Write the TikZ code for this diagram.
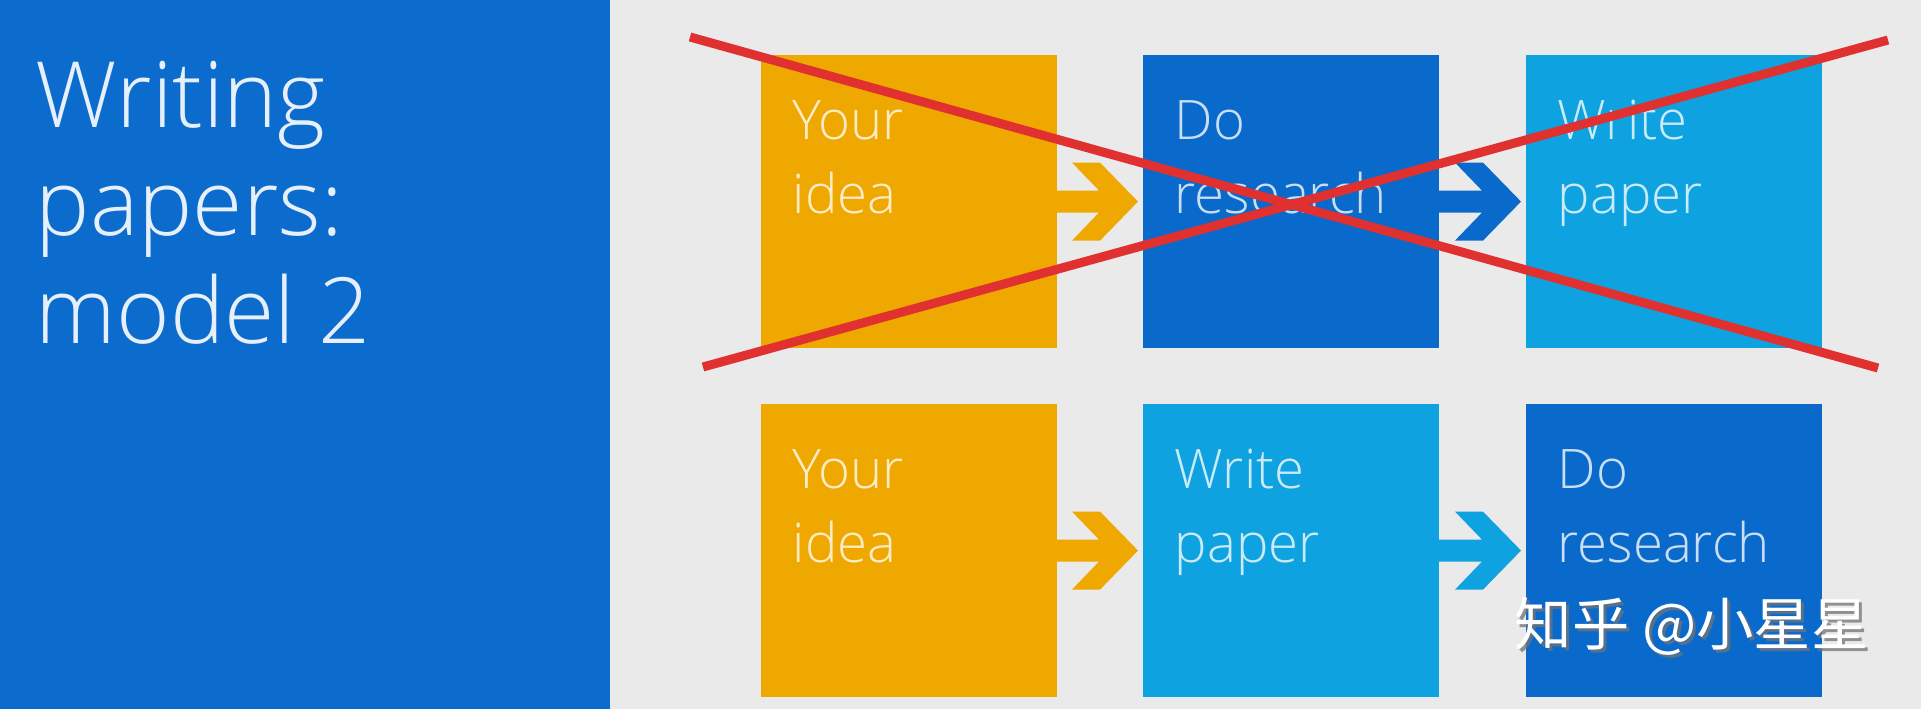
\documentclass[tikz,border=0pt]{standalone}
\usepackage{fontspec}
\setmainfont{Open Sans}
\newfontfamily\lightfont{Open Sans Light}
\newfontfamily\cjk{Noto Sans CJK SC}
\usetikzlibrary{calc}
\definecolor{bggray}{HTML}{EAEAEA}
\definecolor{panelblue}{HTML}{0B6CCD}
\definecolor{darkblue}{HTML}{0A6ACB}
\definecolor{lightblue}{HTML}{0EA2E0}
\definecolor{gold}{HTML}{EEA800}
\definecolor{crossred}{HTML}{E03030}
\newcommand\flowarrow[3]{%
  \fill[#1] ($(#2.east)+(0,-11)$) -- ($(#3.west)+(-44,-11)$) -- ($(#3.west)+(-71,-39)$)
    -- ($(#3.west)+(-43,-39)$) -- ($(#3.west)+(-5,0)$) -- ($(#3.west)+(-43,39)$)
    -- ($(#3.west)+(-71,39)$) -- ($(#3.west)+(-44,11)$) -- ($(#2.east)+(0,11)$) -- cycle;}
\begin{document}
\begin{tikzpicture}[x=0.01cm,y=-0.01cm,
  tile/.style={rectangle, inner sep=0pt, outer sep=0pt, minimum width=2.96cm, minimum height=2.93cm, anchor=north west},
  tiletext/.style={anchor=base west, inner sep=0pt, text=white, text opacity=0.78, font=\lightfont\fontsize{15.5pt}{18pt}\selectfont},
  titletext/.style={anchor=base west, inner sep=0pt, text=white, text opacity=0.9, font=\lightfont\fontsize{26pt}{30pt}\selectfont},
  cross/.style={crossred, line width=0.09cm},
  wmark/.style={anchor=base west, inner sep=0pt, font=\cjk\fontsize{16.3pt}{18pt}\selectfont},
]
\useasboundingbox (0,0) rectangle (1921,709);
\fill[bggray] (0,0) rectangle (1921,709);
\node[rectangle, fill=panelblue, inner sep=0pt, outer sep=0pt, minimum width=6.10cm, minimum height=7.09cm, anchor=north west] (panel) at (0,0) {};
\node[titletext] (title1) at (35,127) {Writing};
\node[titletext] (title2) at (35,235) {papers:};
\node[titletext] (title3) at (35,343) {model 2};
% top row
\node[tile, fill=gold] (a1) at (761,55) {};
\node[tile, fill=darkblue] (a2) at (1143,55) {};
\node[tile, fill=lightblue] (a3) at (1526,55) {};
% bottom row
\node[tile, fill=gold] (b1) at (761,404) {};
\node[tile, fill=lightblue] (b2) at (1143,404) {};
\node[tile, fill=darkblue] (b3) at (1526,404) {};
% texts
\node[tiletext] (a1t1) at ($(a1.north west)+(31,84)$) {Your};
\node[tiletext] (a1t2) at ($(a1.north west)+(31,158)$) {idea};
\node[tiletext] (a2t1) at ($(a2.north west)+(31,84)$) {Do};
\node[tiletext] (a2t2) at ($(a2.north west)+(31,158)$) {research};
\node[tiletext] (a3t1) at ($(a3.north west)+(31,84)$) {Write};
\node[tiletext] (a3t2) at ($(a3.north west)+(31,158)$) {paper};
\node[tiletext] (b1t1) at ($(b1.north west)+(31,84)$) {Your};
\node[tiletext] (b1t2) at ($(b1.north west)+(31,158)$) {idea};
\node[tiletext] (b2t1) at ($(b2.north west)+(31,84)$) {Write};
\node[tiletext] (b2t2) at ($(b2.north west)+(31,158)$) {paper};
\node[tiletext] (b3t1) at ($(b3.north west)+(31,84)$) {Do};
\node[tiletext] (b3t2) at ($(b3.north west)+(31,158)$) {research};
% arrows
\flowarrow{gold}{a1}{a2}
\flowarrow{darkblue}{a2}{a3}
\flowarrow{gold}{b1}{b2}
\flowarrow{lightblue}{b2}{b3}
% red cross
\coordinate (c1) at (690,37);
\coordinate (c2) at (1878,368);
\coordinate (c3) at (703,367);
\coordinate (c4) at (1888,40);
\draw[cross] (c1) -- (c2);
\draw[cross] (c3) -- (c4);
% watermark
\node[wmark, text=black!55, text opacity=0.75] (wmshadow) at (1517,648) {知乎 @小星星};
\node[wmark, text=white] (wm) at (1514,645) {知乎 @小星星};
\end{tikzpicture}
\end{document}
